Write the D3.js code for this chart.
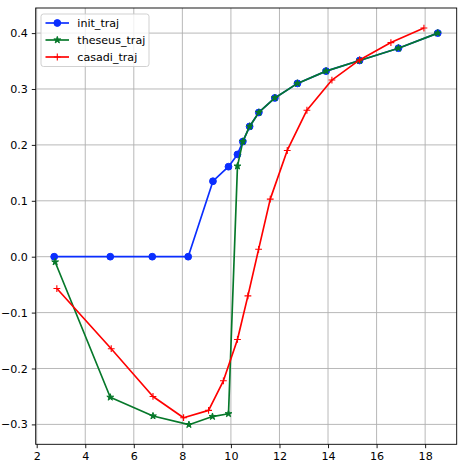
<!DOCTYPE html>
<html><head><meta charset="utf-8">
<script src="https://cdn.jsdelivr.net/npm/d3@7"></script>
<style>body{margin:0;background:#fff}svg{display:block}</style>
</head><body>
<script>
const initX = [2.72, 5.03, 6.76, 8.24, 9.26, 9.90, 10.27, 10.49, 10.77, 11.15, 11.81, 12.74, 13.92, 15.30, 16.90, 18.52];
const initY = [0.0, 0.0, 0.0, 0.0, 0.135, 0.161, 0.183, 0.206, 0.233, 0.258, 0.284, 0.310, 0.332, 0.351, 0.373, 0.400];
const theseusX = [2.76, 5.03, 6.79, 8.27, 9.24, 9.90, 10.27, 10.49, 10.77, 11.15, 11.81, 12.74, 13.92, 15.30, 16.90, 18.52];
const theseusY = [-0.0095, -0.2515, -0.285, -0.3005, -0.286, -0.281, 0.162, 0.206, 0.233, 0.258, 0.284, 0.310, 0.332, 0.351, 0.373, 0.400];
const casadiX = [2.83, 5.07, 6.79, 8.05, 9.08, 9.69, 10.27, 10.70, 11.14, 11.62, 12.32, 13.13, 14.16, 15.30, 16.59, 17.95];
const casadiY = [-0.057, -0.1646, -0.250, -0.288, -0.275, -0.222, -0.148, -0.070, 0.0132, 0.103, 0.190, 0.262, 0.316, 0.352, 0.383, 0.409];
const xTicks = [2, 4, 6, 8, 10, 12, 14, 16, 18];
const yTicks = [-0.3, -0.2, -0.1, 0.0, 0.1, 0.2, 0.3, 0.4];
const seriesNames = ["init_traj", "theseus_traj", "casadi_traj"];
const seriesColors = ["#0a2eff", "#06782a", "#ff0000"];

const W = 468, H = 462;
const L = 35.7, R = 456.7, T = 8, B = 444.3;
const svg = d3.select("body").append("svg").attr("width", W).attr("height", H)
  .style("font-family", "DejaVu Sans, sans-serif");

const x = d3.scaleLinear().domain([1.959, 19.30]).range([L, R]);
const y = d3.scaleLinear().domain([-0.3356, 0.4449]).range([B, T]);

// grid
const g = svg.append("g");
g.selectAll(".gx").data(xTicks).enter().append("line")
  .attr("x1", d => x(d)).attr("x2", d => x(d)).attr("y1", T).attr("y2", B)
  .attr("stroke", "#b0b0b0").attr("stroke-width", 0.9);
g.selectAll(".gy").data(yTicks).enter().append("line")
  .attr("y1", d => y(d)).attr("y2", d => y(d)).attr("x1", L).attr("x2", R)
  .attr("stroke", "#b0b0b0").attr("stroke-width", 0.9);

const fmtY = d => (d < 0 ? "\u2212" : "") + Math.abs(d).toFixed(1);
const xAxis = d3.axisBottom(x).tickValues(xTicks).tickSize(3.9).tickPadding(3.9).tickFormat(d3.format("d"));
const yAxis = d3.axisLeft(y).tickValues(yTicks).tickSize(3.9).tickPadding(3.9).tickFormat(fmtY);
const ax = svg.append("g").attr("transform", `translate(0,${B})`).call(xAxis);
const ay = svg.append("g").attr("transform", `translate(${L},0)`).call(yAxis);
[ax, ay].forEach(a => {
  a.select(".domain").remove();
  a.selectAll("line").attr("stroke", "#000").attr("stroke-width", 0.9);
  a.selectAll("text").attr("fill", "#000").style("font-size", "11.1px").style("font-family", "DejaVu Sans, sans-serif");
});

const starPath = (r) => {
  const pts = [];
  const ri = r * 0.381966;
  for (let i = 0; i < 10; i++) {
    const ang = -Math.PI / 2 + i * Math.PI / 5;
    const rr = i % 2 === 0 ? r : ri;
    pts.push([rr * Math.cos(ang), rr * Math.sin(ang)]);
  }
  return "M" + pts.map(p => p[0].toFixed(2) + "," + p[1].toFixed(2)).join("L") + "Z";
};

function drawMarker(sel, type, color) {
  if (type === 0) {
    sel.append("circle").attr("r", 3.4).attr("fill", color).attr("stroke", color).attr("stroke-width", 1);
  } else if (type === 1) {
    sel.append("path").attr("d", starPath(3.6)).attr("fill", color).attr("stroke", color).attr("stroke-width", 1);
  } else {
    sel.append("path").attr("d", "M-3.4,0H3.4M0,-3.4V3.4").attr("stroke", color).attr("stroke-width", 1.1).attr("fill", "none");
  }
}

const series = [[initX, initY], [theseusX, theseusY], [casadiX, casadiY]];
const line = d3.line().x(d => x(d[0])).y(d => y(d[1]));
const plot = svg.append("g");
series.forEach((s, i) => {
  const data = s[0].map((v, k) => [v, s[1][k]]);
  plot.append("path").datum(data).attr("d", line).attr("fill", "none")
    .attr("stroke", seriesColors[i]).attr("stroke-width", 1.67).attr("stroke-linejoin", "round");
  data.forEach(d => {
    const m = plot.append("g").attr("transform", `translate(${x(d[0])},${y(d[1])})`);
    drawMarker(m, i, seriesColors[i]);
  });
});

// frame
svg.append("rect").attr("x", L).attr("y", T).attr("width", R - L).attr("height", B - T)
  .attr("fill", "none").attr("stroke", "#000").attr("stroke-width", 0.9);

// legend
const lg = svg.append("g");
lg.append("rect").attr("x", 41).attr("y", 14).attr("width", 108).attr("height", 52.5)
  .attr("rx", 2.5).attr("fill", "#fff").attr("fill-opacity", 0.8).attr("stroke", "#cccccc").attr("stroke-width", 0.9);
seriesNames.forEach((n, i) => {
  const yy = 23 + i * 17;
  lg.append("line").attr("x1", 45.5).attr("x2", 69).attr("y1", yy).attr("y2", yy)
    .attr("stroke", seriesColors[i]).attr("stroke-width", 1.67);
  const m = lg.append("g").attr("transform", `translate(57.3,${yy})`);
  drawMarker(m, i, seriesColors[i]);
  lg.append("text").attr("x", 77.3).attr("y", yy).attr("dy", "0.36em")
    .style("font-size", "11.1px").attr("fill", "#000").text(n);
});
</script>
</body></html>
